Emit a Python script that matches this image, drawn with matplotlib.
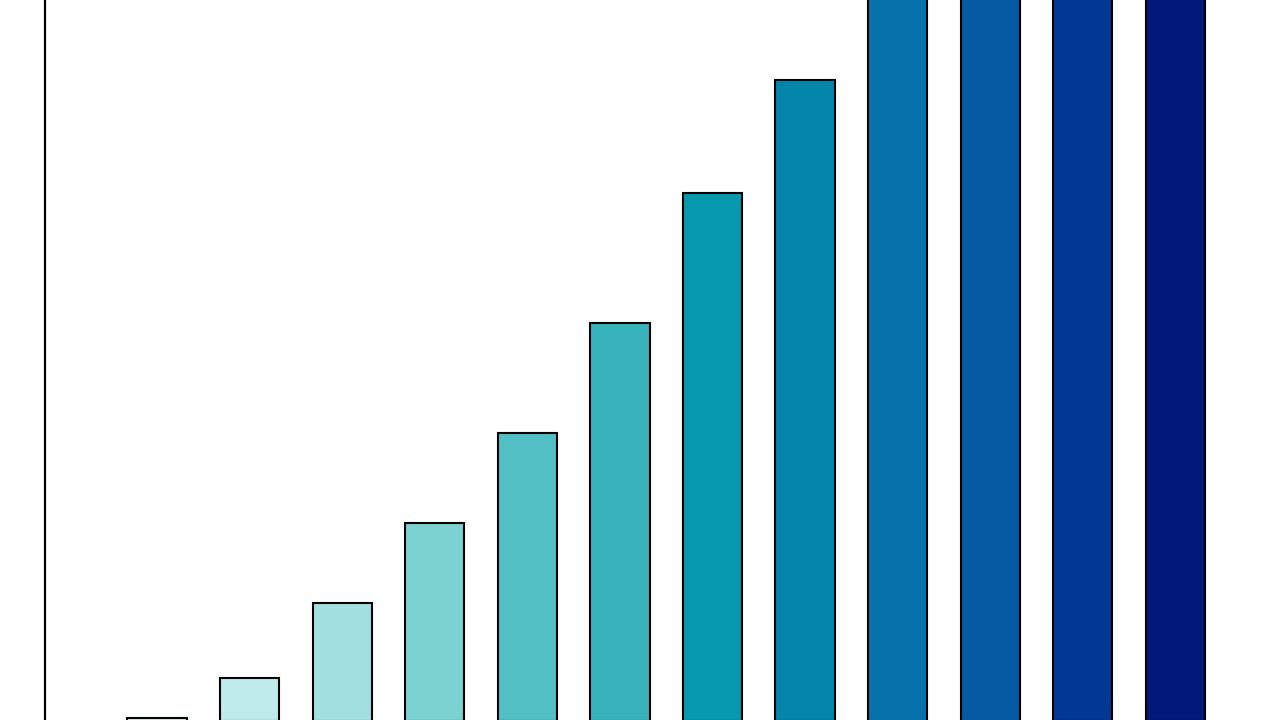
import matplotlib
matplotlib.use("Agg")
import matplotlib.pyplot as plt

# values (bars 9-12 run past the top, so they are guessed)
labels = list(range(1, 13))
values = [0.3, 4.3, 11.8, 19.8, 28.8, 39.8, 52.8, 64.1, 76.0, 88.0, 100.0, 112.0]
colors = ["#e6f6f6", "#bfeaea", "#a2e0df", "#7cd2d0", "#52bfc5", "#38b3bc",
          "#0799af", "#0585aa", "#0672ab", "#0659a3", "#033795", "#02197a"]

fig = plt.figure(figsize=(12.8, 7.2), dpi=100)
ax = fig.add_axes([45 / 1280, -1 / 720, 1235 / 1280, 721 / 720])

x = range(len(values))
ax.bar(x, values, width=0.64, color=colors, edgecolor="black", linewidth=1.5)

ax.set_xlim(-1.21, 12.13)
ax.set_ylim(0, 72.1)
ax.set_xticks([])
ax.set_yticks([])
for s in ["top", "right", "bottom"]:
    ax.spines[s].set_visible(False)
ax.spines["left"].set_linewidth(1.6)

fig.savefig("out.png", dpi=100)
